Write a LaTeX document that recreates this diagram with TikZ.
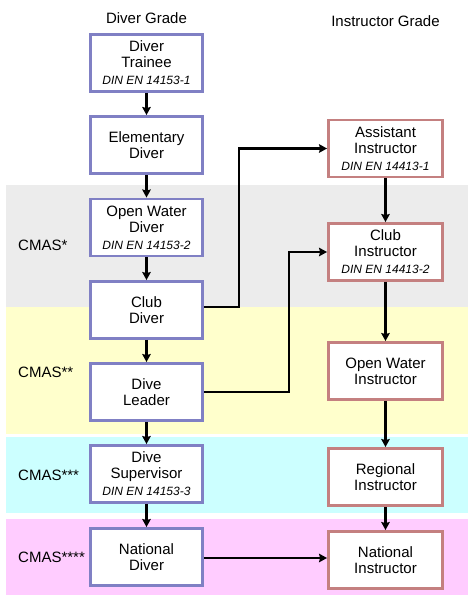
\documentclass[tikz,border=0pt]{standalone}
\usepackage{fontspec}
\setmainfont{Liberation Sans}
\usetikzlibrary{arrows.meta}
\definecolor{divcol}{RGB}{128,128,196}
\definecolor{inscol}{RGB}{196,128,128}
\definecolor{bandgray}{RGB}{236,236,236}
\definecolor{bandyellow}{RGB}{255,255,204}
\definecolor{bandcyan}{RGB}{204,255,255}
\definecolor{bandpink}{RGB}{255,204,255}
\newcommand{\din}[1]{\\[1pt]{\fontsize{12}{14}\selectfont\itshape #1}}
\begin{document}
\begin{tikzpicture}[x=1pt,y=-1pt,
  every node/.style={font=\fontsize{15}{16}\selectfont},
  divbox/.style={draw=divcol,fill=white,line width=2.9pt,minimum width=112pt,minimum height=57pt,align=center,inner sep=0pt},
  insbox/.style={draw=inscol,fill=white,line width=2.9pt,minimum width=114pt,minimum height=57pt,align=center,inner sep=0pt},
  arr/.style={line width=2.8pt,-{Stealth[length=8pt,width=8.5pt,inset=1pt]}},
  lbl/.style={anchor=west,inner sep=0pt}]
\useasboundingbox (0,0) rectangle (474,604);
% bands
\fill[bandgray] (6,185) rectangle (468,307);
\fill[bandyellow] (6,307) rectangle (468,434);
\fill[bandcyan] (6,437) rectangle (468,513);
\fill[bandpink] (6,519) rectangle (468,595);
% headings
\node (hd) at (146.5,18) {Diver Grade};
\node (hi) at (385.5,21) {Instructor Grade};
% CMAS labels
\node[lbl] (c1) at (18,245) {CMAS*};
\node[lbl] (c2) at (18,372) {CMAS**};
\node[lbl] (c3) at (18,475) {CMAS***};
\node[lbl] (c4) at (18,557) {CMAS****};
% diver boxes
\node[divbox] (b1) at (146.5,63) {Diver\\Trainee\din{DIN EN 14153-1}};
\node[divbox] (b2) at (146.5,145) {Elementary\\Diver};
\node[divbox] (b3) at (146.5,227.5) {Open Water\\Diver\din{DIN EN 14153-2}};
\node[divbox] (b4) at (146.5,310) {Club\\Diver};
\node[divbox] (b5) at (146.5,392) {Dive\\Leader};
\node[divbox] (b6) at (146.5,474) {Dive\\Supervisor\din{DIN EN 14153-3}};
\node[divbox] (b7) at (146.5,557) {National\\Diver};
% instructor boxes
\node[insbox] (i1) at (385.5,148.5) {Assistant\\Instructor\din{DIN EN 14413-1}};
\node[insbox] (i2) at (385.5,252) {Club\\Instructor\din{DIN EN 14413-2}};
\node[insbox] (i3) at (385.5,371) {Open Water\\Instructor};
\node[insbox] (i4) at (385.5,477) {Regional\\Instructor};
\node[insbox] (i5) at (385.5,560) {National\\Instructor};
% vertical arrows
\draw[arr] (b1) -- (b2);
\draw[arr] (b2) -- (b3);
\draw[arr] (b3) -- (b4);
\draw[arr] (b4) -- (b5);
\draw[arr] (b5) -- (b6);
\draw[arr] (b6) -- (b7);
\draw[arr] (i1) -- (i2);
\draw[arr] (i2) -- (i3);
\draw[arr] (i3) -- (i4);
\draw[arr] (i4) -- (i5);
% cross arrows
\draw[arr] ([yshift=3pt]b4.east) -| (239,0 |- i1.west) -- (i1.west);
\draw[arr] (b5.east) -| (289,0 |- i2.west) -- (i2.west);
\draw[arr] (b7.east |- 0,558) -- (i5.west |- 0,558);
\end{tikzpicture}
\end{document}
